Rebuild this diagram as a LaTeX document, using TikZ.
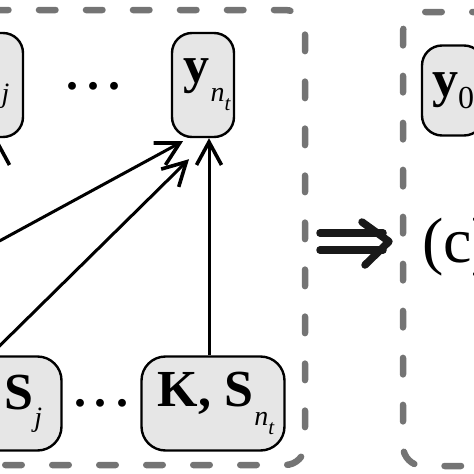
\documentclass[tikz,border=0pt]{standalone}
\usepackage{fontspec}
\setmainfont{Liberation Serif}
\usetikzlibrary{arrows.meta,calc}
\definecolor{boxgray}{HTML}{747474}
\definecolor{nodefill}{HTML}{E6E6E6}
\newcommand{\subnt}{\hspace{1pt}\raisebox{-19pt}{\fontsize{28}{28}\selectfont\itshape n\raisebox{-9pt}{\fontsize{21}{21}\selectfont t}}}
\newcommand{\subj}{\hspace{1pt}\raisebox{-17pt}{\fontsize{28}{28}\selectfont\itshape j}}
\newcommand{\subz}{\raisebox{-12pt}{\fontsize{32}{32}\selectfont 0}}
\begin{document}
\begin{tikzpicture}[x=1pt,y=-1pt,
  nodebase/.style={draw=black, line width=2.4pt, fill=nodefill, inner sep=0pt,
    font=\fontsize{52}{52}\selectfont},
  ynode/.style={nodebase, rounded corners=20pt, minimum width=62pt, minimum height=104pt},
  ksnode/.style={nodebase, rounded corners=24pt, minimum width=143pt, minimum height=94pt},
  dashbox/.style={draw=boxgray, line width=6.5pt, line cap=round, rounded corners=20pt,
    dash pattern=on 16.5pt off 30.5pt},
  arr/.style={draw=black, line width=3pt, -{Straight Barb[length=23pt,width=25pt,line width=3.6pt]}},
  dotsfont/.style={font=\fontsize{48}{48}\bfseries, inner sep=0pt},
  bigarrow/.style={draw=black!90, line width=7.5pt, line cap=round, line join=round}]
\useasboundingbox (0,0) rectangle (474,474);
% dashed panels
\draw[dashbox] (5.25,465) -- (305,465) -- (305,10) -- (-20,10);
\draw[dashbox] (488.75,12) -- (403,12) -- (403,466) -- (520,466);
% nodes
\node[ynode] (yj) at (-8,85) {\textbf{y}\subj};
\node[ynode] (yn) at (203,85) {\hspace*{8pt}\textbf{y}\subnt};
\node[ynode, minimum height=90pt] (y0) at (453,90.5) {\textbf{y}\subz};
\node[ksnode] (ksj) at (-10,403.5) {\textbf{K, S}\subj};
\node[ksnode] (ksn) at (213,403.5) {\hspace*{6pt}\textbf{K, S}\subnt};
\node[dotsfont] (dt) at (93.5,86) {.\hspace{9pt}.\hspace{9pt}.};
\node[dotsfont] (db) at (101,403) {.\hspace{9pt}.\hspace{9pt}.};
\coordinate (ks1) at (-214,357);
% connectors
\draw[arr] ([xshift=-4pt]ksn.north) -- ([xshift=-4pt]ksn.north |- yn.south);
\draw[arr] (ksj.north) -- ([shift={(-14pt,-21pt)}]yn.south);
\draw[arr] (ks1) -- ([shift={(-20pt,-3pt)}]yn.south);
\draw[arr] ([xshift=5pt]yj.south |- ksj.north) -- ([xshift=5pt]yj.south);
% implication arrow
\draw[bigarrow] (320,233) -- (383,233);
\draw[bigarrow] (320,250) -- (383,250);
\draw[bigarrow] (362,222) -- (389,241.5) -- (365,265);
\node[anchor=base west, inner sep=0pt, font=\fontsize{64}{64}\selectfont] (lab) at (422,262) {(c)};
\end{tikzpicture}
\end{document}
